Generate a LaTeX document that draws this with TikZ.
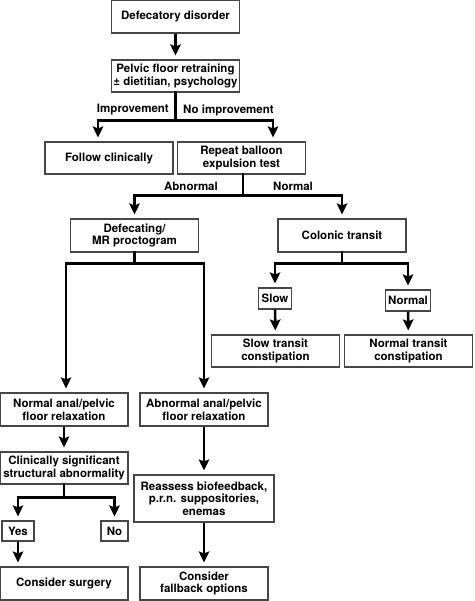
\documentclass[tikz,border=0pt]{standalone}
\usepackage{fontspec}
\setmainfont{TeX Gyre Heros}
\usetikzlibrary{arrows.meta,positioning}
\definecolor{edge}{RGB}{70,70,70}

\begin{document}
\begin{tikzpicture}[
        x=1pt, y=-1pt,
        box/.style={rectangle, draw=edge, line width=1.1pt, inner sep=1pt, align=center,
            font=\fontsize{11.5}{12.6}\selectfont\bfseries, minimum width=128pt, minimum height=33pt},
        tag/.style={box, minimum width=0pt, minimum height=21pt, inner xsep=3pt},
        lbl/.style={font=\fontsize{11.5}{12.6}\selectfont\bfseries, inner sep=0pt},
        ln/.style={line width=2.6pt, line cap=rect},
        arr/.style={line width=2.6pt, -{Stealth[length=11pt, width=10.5pt, inset=2pt]}, shorten >=4pt},
    ]
        \useasboundingbox (0,0) rectangle (474,601);

        % Top of the chart
        \node[box] (DIS) at (175.5, 16.5) {Defecatory disorder};
        \node[box, minimum height=32pt] (PFR) at (175.5, 76) {Pelvic floor retraining\\± dietitian, psychology};
        \node[box, minimum height=32pt] (FOL) at (109, 158) {Follow clinically};
        \node[box, minimum height=32pt] (REP) at (241.5, 158) {Repeat balloon\\expulsion test};

        % Second level
        \node[box] (DEF) at (134.5, 235.5) {Defecating/\\MR proctogram};
        \node[box] (COL) at (342, 235.5) {Colonic transit};
        \node[tag] (SLW) at (275, 298.5) {Slow};
        \node[tag] (NRM) at (408, 300.5) {Normal};
        \node[box, minimum height=32pt] (STC) at (275.5, 351) {Slow transit\\constipation};
        \node[box, minimum height=32pt] (NTC) at (408.5, 351) {Normal transit\\constipation};

        % Bottom left and middle
        \node[box] (NAP) at (64, 409.5) {Normal anal/pelvic\\floor relaxation};
        \node[box] (AAP) at (204, 409.5) {Abnormal anal/pelvic\\floor relaxation};
        \node[box, minimum height=32pt] (CSA) at (64, 468) {Clinically significant\\structural abnormality};
        \node[box, minimum width=140pt, minimum height=47pt] (REA) at (204, 498.5) {Reassess biofeedback,\\p.r.n. suppositories,\\enemas};
        \node[tag, minimum width=32pt, minimum height=20pt] (YES) at (18, 531) {Yes};
        \node[tag, minimum width=27pt, minimum height=20pt] (NO) at (114.5, 531) {No};
        \node[box] (SUR) at (64, 583.5) {Consider surgery};
        \node[box] (FAL) at (204, 583.5) {Consider\\fallback options};

        % Branch labels
        \node[lbl, anchor=east] (LIMP) at (169, 110) {Improvement};
        \node[lbl, anchor=west] (LNOI) at (183, 110) {No improvement};
        \node[lbl] (LABN) at (191, 186) {Abnormal};
        \node[lbl] (LNML) at (293, 186) {Normal};

        % Connectors
        \draw[arr] (DIS) -- (PFR);

        \draw[ln] (PFR.south) -- ++(0, 28) coordinate (B1);
        \draw[arr] (B1) -| ([xshift=-11pt]FOL.north);
        \draw[arr] (B1) -| ([xshift=31.5pt]REP.north);

        \draw[ln] ([xshift=1.5pt]REP.south) -- ++(0, 21) coordinate (B2);
        \draw[arr] (B2) -| (DEF.north);
        \draw[arr] (B2) -| (COL.north);

        \draw[ln] (DEF.south) -- ++(0, 11) coordinate (B3);
        \draw[arr] (B3) -| ([xshift=2pt]NAP.north);
        \draw[arr] (B3) -| (AAP.north);

        \draw[ln] (COL.south) -- ++(0, 11) coordinate (B4);
        \draw[arr] (B4) -| (SLW.north);
        \draw[arr] (B4) -| (NRM.north);
        \draw[arr] (SLW) -- (STC);
        \draw[arr] (NRM) -- (NTC);

        \draw[arr] (NAP) -- (CSA);
        \draw[ln] (CSA.south) -- ++(0, 13) coordinate (B5);
        \draw[arr] (B5) -| (YES.north);
        \draw[arr] (B5) -| (NO.north);
        \draw[arr] (YES.south) -- (YES.south |- SUR.north);

        \draw[arr] (AAP) -- (REA);
        \draw[arr] (REA) -- (FAL);
    \end{tikzpicture}
\end{document}
